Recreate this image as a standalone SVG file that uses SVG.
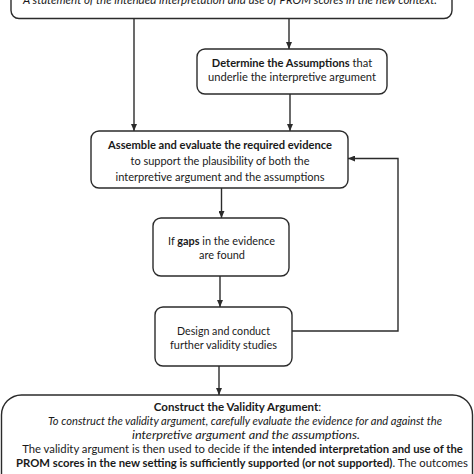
<svg xmlns="http://www.w3.org/2000/svg" width="474" height="474" viewBox="0 0 474 474">
<style>
.box{fill:#fff;stroke:#2b2b2b;stroke-width:1.4}
.con{fill:none;stroke:#2b2b2b;stroke-width:1.4}
text{font-family:Lato,"Liberation Sans",sans-serif;font-size:12px;fill:#1a1a1a;text-anchor:middle}
.b{font-weight:bold}
.i{font-style:italic}
.sm{font-size:11.3px}
</style>
<defs>
<marker id="ah" markerUnits="userSpaceOnUse" markerWidth="7" markerHeight="6" refX="7" refY="3" orient="auto">
<path d="M0,0 L7,3 L0,6 z" fill="#2b2b2b"/>
</marker>
</defs>
<rect width="474" height="474" fill="#fff"/>
<g id="connectors">
<line class="con" x1="134" y1="18.5" x2="134" y2="131" marker-end="url(#ah)"/>
<line class="con" x1="289" y1="18.5" x2="289" y2="49" marker-end="url(#ah)"/>
<line class="con" x1="290" y1="94" x2="290" y2="131" marker-end="url(#ah)"/>
<line class="con" x1="221.5" y1="188" x2="221.5" y2="218" marker-end="url(#ah)"/>
<line class="con" x1="220" y1="276" x2="220" y2="307" marker-end="url(#ah)"/>
<line class="con" x1="219" y1="366" x2="219" y2="395" marker-end="url(#ah)"/>
<path class="con" d="M292,331 H398 V158.5 H348" marker-end="url(#ah)"/>
</g>
<g id="statement">
<rect class="box" x="11" y="-30" width="441" height="48.5" rx="8"/>
<text class="i" x="230" y="3.5" textLength="414" lengthAdjust="spacingAndGlyphs">A statement of the intended interpretation and use of PROM scores in the new context.</text>
</g>
<g id="assumptions">
<rect class="box" x="197" y="49" width="190" height="45" rx="8"/>
<text x="292" y="67" style="font-size:11.1px"><tspan class="b">Determine the Assumptions</tspan> that</text>
<text x="292" y="81" textLength="168" lengthAdjust="spacingAndGlyphs">underlie the interpretive argument</text>
</g>
<g id="evidence">
<rect class="box" x="91" y="131" width="257" height="57" rx="8"/>
<text class="b" x="220" y="148.5" textLength="224" lengthAdjust="spacingAndGlyphs">Assemble and evaluate the required evidence</text>
<text x="220" y="165" textLength="179" lengthAdjust="spacingAndGlyphs">to support the plausibility of both the</text>
<text x="220" y="181" textLength="209" lengthAdjust="spacingAndGlyphs">interpretive argument and the assumptions</text>
</g>
<g id="gaps">
<rect class="box" x="153" y="218" width="136" height="58" rx="8"/>
<text x="221.5" y="245" style="font-size:10.9px">If <tspan class="b">gaps</tspan> in the evidence</text>
<text x="222" y="259" textLength="46" lengthAdjust="spacingAndGlyphs">are found</text>
</g>
<g id="studies">
<rect class="box" x="155" y="307" width="137" height="59" rx="8"/>
<text x="223.5" y="334.5" textLength="93" lengthAdjust="spacingAndGlyphs">Design and conduct</text>
<text x="223.5" y="349" textLength="107" lengthAdjust="spacingAndGlyphs">further validity studies</text>
</g>
<g id="validity">
<rect class="box" x="1.5" y="395" width="471" height="120" rx="20"/>
<text x="237.5" y="411" style="font-size:11.5px"><tspan class="b">Construct the Validity Argument</tspan>:</text>
<text class="i" x="245" y="425" textLength="394" lengthAdjust="spacingAndGlyphs">To construct the validity argument, carefully evaluate the evidence for and against the</text>
<text class="i" x="246" y="438.5" textLength="228" lengthAdjust="spacingAndGlyphs">interpretive argument and the assumptions.</text>
<text class="sm" x="242.5" y="452.5">The validity argument is then used to decide if the <tspan class="b">intended interpretation and use of the</tspan></text>
<text class="sm" x="242" y="466.5"><tspan class="b">PROM scores in the new setting is sufficiently supported (or not supported)</tspan>. The outcomes</text>
</g>
</svg>
